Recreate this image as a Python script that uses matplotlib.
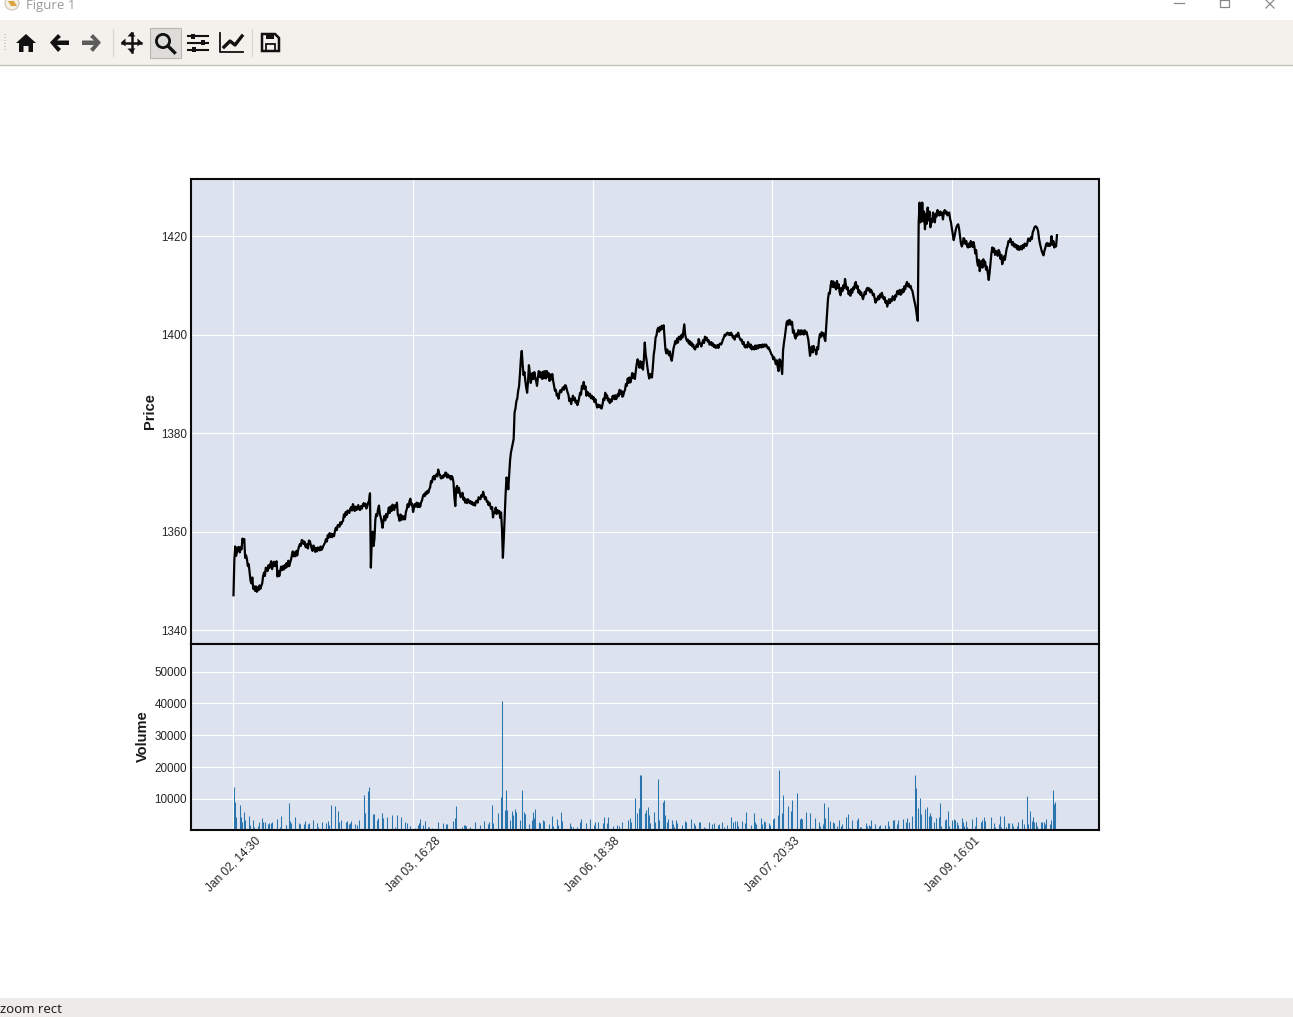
import matplotlib
matplotlib.use('Agg')
import matplotlib.pyplot as plt
from matplotlib.patches import Rectangle, Polygon, Circle

W, H = 1293, 1017

# Значения: номер бара и цена
price_idx = [
    0, 1, 2, 3, 5, 7, 8, 9, 10, 12,
    13, 15, 18, 19, 21, 22, 26, 27, 30, 32,
    34, 37, 41, 43, 45, 47, 49, 52, 55, 58,
    63, 65, 68, 71, 74, 77, 81, 85, 87, 90,
    91, 95, 99, 102, 107, 110, 113, 117, 121, 123,
    128, 130, 133, 135, 138, 141, 145, 148, 150, 152,
    153, 154, 156, 158, 161, 164, 166, 168, 171, 173,
    176, 178, 182, 185, 191, 194, 197, 200, 204, 208,
    212, 218, 220, 223, 226, 228, 231, 237, 240, 243,
    245, 247, 249, 252, 254, 258, 262, 267, 271, 274,
    278, 280, 286, 289, 292, 298, 299, 300, 302, 304,
    306, 309, 312, 313, 317, 321, 325, 327, 329, 332,
    336, 338, 340, 344, 349, 352, 355, 362, 366, 370,
    376, 378, 383, 390, 393, 395, 403, 405, 410, 414,
    419, 423, 427, 430, 434, 439, 442, 444, 447, 450,
    454, 458, 461, 463, 466, 470, 473, 479, 481, 484,
    488, 492, 497, 502, 505, 510, 514, 518, 521, 527,
    531, 538, 544, 549, 555, 558, 562, 570, 573, 580,
    586, 594, 597, 603, 607, 609, 611, 613, 616, 620,
    623, 626, 630, 633, 638, 640, 642, 646, 649, 653,
    657, 659, 662, 666, 669, 672, 676, 681, 687, 693,
    696, 701, 706, 711, 715, 722, 728, 735, 740, 744,
    750, 755, 759, 762, 763, 764, 765, 767, 770, 773,
    776, 779, 781, 784, 790, 792, 796, 802, 807, 811,
    814, 818, 822, 825, 828, 831, 835, 841, 845, 850,
    853, 856, 860, 865, 871, 876, 883, 886, 889, 893,
    895, 899, 902, 906, 909, 911, 914, 916, 917,
]
price_val = [
    1347.1, 1354.4, 1357, 1355.1, 1356.8, 1355.8, 1356.8, 1356.4, 1358.6, 1358.5,
    1354.7, 1354.4, 1351.7, 1350, 1350.7, 1348.4, 1347.8, 1348.7, 1348.4, 1349.5,
    1351.7, 1352.5, 1353.4, 1352.4, 1353.9, 1353.6, 1350.9, 1352, 1353, 1352.6,
    1353.7, 1355.1, 1355.8, 1355.2, 1357.5, 1358.2, 1356.8, 1358.1, 1356.6, 1356.8,
    1355.9, 1356.4, 1356.6, 1357.8, 1359.7, 1358.9, 1360.2, 1361.4, 1362, 1363.5,
    1364, 1364.6, 1365.6, 1364.2, 1364.9, 1364.4, 1365.8, 1364.7, 1365.9, 1367.8,
    1352.7, 1358.5, 1357.1, 1362.5, 1364.6, 1362.9, 1360.8, 1363.2, 1362.9, 1364.9,
    1364.2, 1365.2, 1365.9, 1362.2, 1362.5, 1365.6, 1366.7, 1364, 1365.9, 1365.1,
    1367.6, 1368.6, 1370.3, 1371.3, 1371.6, 1372.6, 1370.8, 1371.9, 1371, 1371.3,
    1370, 1365.2, 1369.3, 1368, 1367.3, 1365.9, 1366.3, 1365.4, 1366.3, 1366.7,
    1368.1, 1366.6, 1365.2, 1362.9, 1364.9, 1363.9, 1360.5, 1354.7, 1363.2, 1371,
    1368.6, 1376.1, 1378.8, 1384.2, 1388.6, 1396.7, 1390.6, 1388.2, 1393.8, 1391,
    1391.3, 1389.6, 1392.6, 1391, 1392.6, 1390.6, 1392, 1387, 1389, 1389.7,
    1385.9, 1387.6, 1385.7, 1390.4, 1387.6, 1388.2, 1386.9, 1385.2, 1385, 1388.2,
    1386.1, 1387.6, 1387.2, 1388.8, 1387.6, 1391.1, 1390.3, 1392.2, 1391, 1395,
    1393.3, 1398.4, 1393.3, 1391.1, 1391.3, 1399.4, 1401.4, 1401.9, 1397, 1396.4,
    1394.7, 1398.7, 1399.4, 1402.1, 1398.7, 1398.4, 1397, 1399.1, 1397.6, 1399.4,
    1398, 1397.4, 1398.4, 1400.2, 1400.1, 1399, 1400.4, 1397.4, 1398.5, 1397,
    1397.4, 1397.7, 1396.9, 1394.7, 1392.6, 1394.7, 1392, 1398.4, 1402.5, 1402.8,
    1400.4, 1399.2, 1400.8, 1400.1, 1400.6, 1399.1, 1395.7, 1397.7, 1396, 1400.1,
    1400.3, 1398.7, 1407.2, 1410.9, 1409.6, 1410.9, 1408, 1411.3, 1407.9, 1410.7,
    1408.5, 1407.2, 1409.5, 1408.7, 1406.5, 1408.5, 1405.7, 1407.5, 1408.9, 1408.4,
    1410.7, 1409.2, 1406.2, 1402.8, 1422.8, 1426.8, 1422.8, 1426.8, 1421.4, 1425.8,
    1421.8, 1424.8, 1422.8, 1425.3, 1423.4, 1425.3, 1424.5, 1419.2, 1422.4, 1417.9,
    1419.4, 1417.7, 1418.6, 1418, 1415, 1412.9, 1415.3, 1411.1, 1417.7, 1416.7,
    1416.8, 1414.3, 1416.3, 1419.5, 1417.7, 1417.4, 1418, 1419.4, 1419.4, 1422,
    1421.6, 1417.7, 1416.1, 1418.6, 1418, 1420, 1417.7, 1417.9, 1420.2,
]

# Мелкие зубцы линии между опорными точками (оценка на глаз)
price_detail = [
    (4, 1356), (6, 1356.9), (11, 1358), (14, 1355.2), (16, 1353), (17, 1353.4), (20, 1349.5), (23, 1348.9),
    (24, 1348), (25, 1348.9), (28, 1348.1), (29, 1349.1), (31, 1349), (33, 1351), (35, 1351), (36, 1352.7),
    (38, 1352), (39, 1353.2), (40, 1352.6), (42, 1354), (44, 1353.2), (46, 1353), (48, 1354), (50, 1352),
    (51, 1351), (53, 1352.9), (54, 1352.2), (56, 1352.3), (57, 1353.2), (59, 1353.6), (60, 1352.9), (61, 1354.1),
    (62, 1353), (64, 1354.3), (66, 1356), (67, 1355), (69, 1355), (70, 1356.1), (72, 1356.3), (73, 1357),
    (75, 1357.1), (76, 1358.3), (78, 1357.5), (79, 1358), (80, 1357), (82, 1357.5), (83, 1356.6), (84, 1358.2),
    (86, 1357.4), (88, 1356.1), (89, 1357.2), (92, 1356.7), (93, 1356), (94, 1356.8), (96, 1356.2), (97, 1357),
    (98, 1356.3), (100, 1357.1), (103, 1358.5), (104, 1358), (105, 1359.3), (106, 1358.8), (108, 1358.9), (109, 1359.6),
    (111, 1359.5), (112, 1359.1), (114, 1360.8), (115, 1360.3), (116, 1361.3), (118, 1361), (119, 1361.9), (120, 1361.5),
    (122, 1362.2), (124, 1363), (125, 1364), (126, 1363.4), (127, 1364.3), (129, 1363.8), (131, 1365), (132, 1364.3),
    (134, 1365), (136, 1365.1), (137, 1364.4), (139, 1365.4), (140, 1364.5), (142, 1365.2), (143, 1364.7), (144, 1365.4),
    (146, 1365.2), (147, 1365.7), (149, 1365.1), (151, 1366.3), (155, 1360), (157, 1358.6), (159, 1363.6), (160, 1363.2),
    (162, 1365.3), (163, 1363.6), (165, 1362), (167, 1362.2), (169, 1362.3), (170, 1363.6), (172, 1363.8), (174, 1363.8),
    (175, 1365.1), (177, 1365.5), (179, 1364.4), (180, 1365.4), (181, 1365), (183, 1363.5), (184, 1363), (186, 1363.5),
    (187, 1362.4), (188, 1363.2), (189, 1362.5), (190, 1363.1), (192, 1364), (193, 1364.6), (195, 1365), (196, 1366.2),
    (198, 1365.4), (199, 1365.7), (201, 1364.9), (202, 1365.6), (203, 1365.1), (205, 1365), (206, 1365.8), (207, 1365),
    (209, 1366), (210, 1366.4), (211, 1367.2), (213, 1367.2), (214, 1368), (215, 1367.6), (216, 1368.3), (217, 1367.9),
    (219, 1369), (221, 1370), (222, 1371), (224, 1370.6), (225, 1371.4), (227, 1371.2), (229, 1371.8), (230, 1371.5),
    (232, 1371.2), (233, 1370.9), (234, 1371.5), (235, 1371.2), (236, 1372), (238, 1371), (239, 1371.6), (241, 1371.3),
    (242, 1370.6), (244, 1371), (246, 1367), (248, 1368.8), (250, 1367.9), (251, 1368.9), (253, 1367), (255, 1367.9),
    (256, 1366.5), (257, 1366.9), (259, 1366.5), (260, 1365.8), (261, 1366.6), (263, 1365.8), (264, 1366.2), (265, 1365.6),
    (266, 1366), (268, 1365.8), (269, 1365.3), (270, 1366.2), (272, 1365.9), (273, 1367), (275, 1366.6), (276, 1367.4),
    (277, 1367.1), (279, 1367.3), (281, 1367), (282, 1366.1), (283, 1366.2), (284, 1365.4), (285, 1365.9), (287, 1364.6),
    (288, 1365), (290, 1364), (291, 1363.8), (293, 1363.6), (294, 1364.4), (295, 1363.9), (296, 1364.2), (297, 1362.8),
    (301, 1358.5), (303, 1367.5), (305, 1370.5), (307, 1371.5), (308, 1374.5), (310, 1377), (311, 1377.8), (314, 1385),
    (315, 1386.5), (316, 1387), (318, 1389.5), (319, 1392), (320, 1395), (322, 1394), (323, 1391.8), (324, 1392.4),
    (326, 1389.2), (328, 1390.5), (330, 1392.2), (331, 1390.2), (333, 1392.2), (334, 1391), (335, 1392.4), (337, 1390.6),
    (339, 1391.4), (341, 1391.4), (342, 1392.4), (343, 1391.2), (345, 1392.5), (346, 1391.2), (347, 1392.6), (348, 1391.1),
    (350, 1391.4), (351, 1392.2), (353, 1391.9), (354, 1390.9), (356, 1390.6), (357, 1389.6), (358, 1388.6), (359, 1388.8),
    (360, 1387.6), (361, 1387.9), (363, 1388.2), (364, 1388.7), (365, 1388.3), (367, 1389.3), (368, 1388.8), (369, 1389.7),
    (371, 1389), (372, 1388.3), (373, 1387.8), (374, 1386.5), (375, 1387), (377, 1386.8), (379, 1386.7), (380, 1387.2),
    (381, 1386.2), (382, 1386.6), (384, 1386.3), (385, 1387.2), (386, 1388.2), (387, 1387.8), (388, 1389.6), (389, 1389),
    (391, 1389), (392, 1389.5), (394, 1388.4), (396, 1387.5), (397, 1388), (398, 1387.1), (399, 1387.6), (400, 1386.9),
    (401, 1387.3), (402, 1386.3), (404, 1385.9), (406, 1385.8), (407, 1385.3), (408, 1385.7), (409, 1385.1), (411, 1385.9),
    (412, 1387), (413, 1386.7), (415, 1387.2), (416, 1387.7), (417, 1386.6), (418, 1387), (420, 1386.8), (421, 1386.4),
    (422, 1387.5), (424, 1386.9), (425, 1387.7), (426, 1386.9), (428, 1388), (429, 1387.5), (431, 1388), (432, 1388.6),
    (433, 1387.4), (435, 1388.4), (436, 1388.8), (437, 1390), (438, 1389.6), (440, 1390.2), (441, 1391.3), (443, 1391),
    (445, 1391.2), (446, 1392), (448, 1392.6), (449, 1394), (451, 1394.4), (452, 1393.3), (453, 1394.6), (455, 1394.4),
    (456, 1392.9), (457, 1395), (459, 1396), (460, 1394.8), (462, 1392), (464, 1392), (465, 1391.6), (467, 1393.5),
    (468, 1396), (469, 1397.2), (471, 1399.8), (472, 1401), (474, 1400.6), (475, 1401.6), (476, 1401), (477, 1401.8),
    (478, 1401.2), (480, 1399.5), (482, 1396.2), (483, 1397), (485, 1395.8), (486, 1396.6), (487, 1395.3), (489, 1395.8),
    (490, 1397.2), (491, 1397.9), (493, 1398.2), (494, 1399.2), (495, 1398.4), (496, 1399.6), (498, 1399), (499, 1400),
    (500, 1399.4), (501, 1400.7), (503, 1400), (504, 1399.2), (506, 1399), (507, 1398.2), (508, 1398.7), (509, 1397.9),
    (511, 1397.6), (512, 1398), (513, 1397.2), (515, 1397.5), (516, 1398), (517, 1397.5), (519, 1398.5), (520, 1398),
    (522, 1398.3), (523, 1398.9), (524, 1398.3), (525, 1399.6), (526, 1399), (528, 1398.6), (529, 1398.9), (530, 1398),
    (532, 1398.5), (533, 1397.8), (534, 1398.2), (535, 1397.5), (536, 1397.9), (537, 1397.3), (539, 1397.9), (540, 1397.3),
    (541, 1398), (542, 1398.2), (543, 1398), (545, 1399), (546, 1399.4), (547, 1400), (548, 1399.8), (550, 1400.4),
    (551, 1400), (552, 1400.3), (553, 1399.9), (554, 1400.4), (556, 1399.4), (557, 1399.7), (559, 1399.6), (560, 1400),
    (561, 1399.6), (563, 1399.6), (564, 1399.2), (565, 1398.8), (566, 1399), (567, 1398.1), (568, 1398.5), (569, 1397.6),
    (571, 1397.9), (572, 1397.4), (574, 1398), (575, 1397.4), (576, 1398), (577, 1397), (578, 1397.6), (579, 1397.1),
    (581, 1397.8), (582, 1397.1), (583, 1397.8), (584, 1397.2), (585, 1397.9), (587, 1397.9), (588, 1397.4), (589, 1398),
    (590, 1397.5), (591, 1398), (592, 1397.6), (593, 1398), (595, 1397.2), (596, 1397.4), (598, 1396.5), (599, 1396),
    (600, 1395.8), (601, 1395), (602, 1395.4), (604, 1394), (605, 1394.8), (606, 1393.5), (608, 1395), (610, 1393.4),
    (612, 1396.8), (614, 1399.6), (615, 1401), (617, 1402.8), (618, 1402), (619, 1403), (621, 1402), (622, 1402.6),
    (624, 1400.9), (625, 1399.6), (627, 1400.2), (628, 1399.8), (629, 1400.9), (631, 1400), (632, 1400.9), (634, 1400.8),
    (635, 1400), (636, 1400.9), (637, 1400.2), (639, 1399.8), (641, 1397.5), (643, 1396.6), (644, 1397.6), (645, 1396.4),
    (647, 1397), (648, 1396.8), (650, 1397.5), (651, 1397), (652, 1399), (654, 1399.5), (655, 1400.5), (656, 1399.8),
    (658, 1399.3), (660, 1401.5), (661, 1404.5), (663, 1408.5), (664, 1408.3), (665, 1410), (667, 1409.7), (668, 1410.8),
    (670, 1410.4), (671, 1409.2), (673, 1409.5), (674, 1410.2), (675, 1408.6), (677, 1409.5), (678, 1408.8), (679, 1410),
    (680, 1409.4), (682, 1410), (683, 1409.2), (684, 1409.6), (685, 1408.2), (686, 1408.9), (688, 1409.2), (689, 1408.5),
    (690, 1409.6), (691, 1409.2), (692, 1410.3), (694, 1409.4), (695, 1409.9), (697, 1409), (698, 1408.1), (699, 1408.6),
    (700, 1407.8), (702, 1408), (703, 1408.7), (704, 1408.2), (705, 1409.3), (707, 1409), (708, 1409.4), (709, 1408.6),
    (710, 1409.1), (712, 1408), (713, 1408.3), (714, 1407.3), (716, 1407.3), (717, 1407), (718, 1407.8), (719, 1407.2),
    (720, 1408.2), (721, 1407.6), (723, 1407.8), (724, 1407.2), (725, 1407.6), (726, 1406.5), (727, 1406.9), (729, 1406.5),
    (730, 1407.2), (731, 1406.4), (732, 1407.2), (733, 1406.8), (734, 1407.8), (736, 1407), (737, 1408), (738, 1407.7),
    (739, 1408.8), (741, 1408.2), (742, 1409.1), (743, 1408.1), (745, 1409.2), (746, 1408.6), (747, 1409.8), (748, 1409.2),
    (749, 1410.2), (751, 1409.8), (752, 1410.3), (753, 1409.6), (754, 1409.9), (756, 1408.9), (757, 1407.9), (758, 1407),
    (760, 1405.2), (761, 1403.8), (766, 1423.4), (768, 1423), (769, 1425), (771, 1424.5), (772, 1422.5), (774, 1423.2),
    (775, 1425), (777, 1423.4), (778, 1422.8), (780, 1423.5), (782, 1424.6), (783, 1424), (785, 1424.6), (786, 1424.2),
    (787, 1425), (788, 1424.3), (789, 1424.8), (791, 1424.7), (793, 1424.6), (794, 1425), (795, 1424.2), (797, 1424.8),
    (798, 1423.5), (799, 1422.8), (800, 1421.5), (801, 1420.4), (803, 1420), (804, 1421), (805, 1421.8), (806, 1422.2),
    (808, 1421.5), (809, 1420), (810, 1418.6), (812, 1418.4), (813, 1419.6), (815, 1418.4), (816, 1419), (817, 1417.9),
    (819, 1418.5), (820, 1417.8), (821, 1419), (823, 1417.8), (824, 1418.8), (826, 1416.5), (827, 1417.2), (829, 1414),
    (830, 1415.2), (832, 1414.3), (833, 1415), (834, 1413.6), (836, 1414), (837, 1414.8), (838, 1413.2), (839, 1413.8),
    (840, 1412.4), (842, 1412.6), (843, 1414.6), (844, 1416.5), (846, 1416.8), (847, 1417.5), (848, 1416.2), (849, 1417),
    (851, 1416), (852, 1417.2), (854, 1415.4), (855, 1416.2), (857, 1415), (858, 1415.9), (859, 1415.2), (861, 1417.5),
    (862, 1418), (863, 1419), (864, 1418.8), (866, 1419), (867, 1418.2), (868, 1418.8), (869, 1417.9), (870, 1418.4),
    (872, 1418.2), (873, 1417.3), (874, 1418), (875, 1417.2), (877, 1418), (878, 1417.3), (879, 1418.2), (880, 1417.6),
    (881, 1418.5), (882, 1418.2), (884, 1418.6), (885, 1419.5), (887, 1419), (888, 1419.8), (890, 1420.8), (891, 1421.2),
    (892, 1421.8), (894, 1421.9), (896, 1421), (897, 1419.5), (898, 1418.5), (900, 1417), (901, 1416.5), (903, 1417),
    (904, 1417.6), (905, 1418.4), (907, 1418), (908, 1418.5), (910, 1418.4), (912, 1418.2), (913, 1419), (915, 1418.4),
]

# Объём: номер бара и значение
volume_idx = [
    1, 2, 3, 7, 8, 10, 12, 13, 17, 18, 22, 23, 27, 28, 32, 33, 35, 38, 40, 42,
    43, 48, 49, 52, 53, 58, 59, 62, 63, 64, 68, 69, 73, 74, 78, 79, 80, 83, 84, 88,
    89, 93, 94, 99, 103, 105, 106, 109, 113, 116, 117, 118, 120, 125, 126, 129, 130, 131, 135, 138,
    140, 145, 146, 150, 151, 155, 156, 157, 160, 161, 165, 166, 167, 171, 176, 177, 180, 182, 186, 187,
    191, 193, 197, 202, 206, 207, 208, 211, 213, 217, 218, 221, 228, 233, 237, 238, 244, 247, 248, 254,
    257, 258, 259, 263, 269, 274, 279, 283, 284, 285, 288, 289, 295, 298, 299, 302, 304, 305, 308, 310,
    311, 314, 315, 319, 321, 324, 325, 329, 332, 334, 335, 336, 340, 341, 345, 346, 351, 355, 356, 360,
    361, 365, 366, 375, 376, 378, 382, 386, 387, 392, 397, 401, 403, 406, 411, 412, 413, 416, 417, 423,
    427, 429, 433, 439, 442, 443, 447, 449, 452, 453, 454, 458, 459, 462, 463, 464, 468, 469, 473, 474,
    478, 479, 480, 483, 484, 488, 489, 490, 493, 494, 499, 500, 503, 504, 509, 510, 513, 514, 518, 520,
    524, 525, 529, 530, 533, 535, 539, 541, 544, 546, 550, 554, 556, 558, 559, 561, 562, 566, 570, 571,
    576, 580, 581, 582, 587, 588, 591, 592, 596, 597, 601, 602, 606, 607, 608, 611, 612, 617, 618, 621,
    622, 627, 628, 631, 632, 633, 637, 638, 642, 644, 647, 648, 652, 653, 657, 658, 659, 662, 664, 668,
    669, 672, 674, 677, 678, 682, 684, 685, 689, 694, 695, 698, 699, 704, 705, 708, 709, 710, 714, 719,
    720, 725, 729, 730, 734, 735, 736, 739, 740, 745, 746, 749, 750, 752, 756, 759, 760, 762, 765, 766,
    770, 772, 775, 776, 777, 780, 782, 786, 787, 788, 792, 793, 796, 797, 800, 802, 803, 806, 807, 811,
    812, 813, 816, 817, 822, 826, 827, 832, 833, 836, 837, 843, 847, 848, 852, 854, 855, 858, 860, 863,
    864, 867, 868, 873, 874, 878, 880, 884, 885, 887, 889, 890, 891, 894, 895, 899, 900, 903, 904, 905,
    909, 910, 913, 914, 915,
]
volume_val = [
    13800, 8900, 4400, 8100, 4400, 2900, 5900, 3400, 4600, 1800, 3400, 1300, 1500, 2700, 4000, 2900, 2700, 2100, 2300, 2300,
    2900, 3700, 3400, 1300, 4600, 1700, 1800, 8700, 3100, 2500, 1600, 4300, 2400, 2100, 1300, 2000, 3100, 2100, 2400, 1300,
    3400, 2400, 1300, 2700, 2400, 3100, 1700, 8100, 7800, 6200, 2900, 1600, 3400, 2900, 3100, 2000, 2400, 3100, 2100, 1700,
    3400, 11300, 5600, 12500, 13800, 5300, 5300, 2700, 3300, 4000, 5600, 4000, 2400, 4300, 1300, 5000, 1300, 5000, 4300, 4000,
    2700, 2400, 1500, 900, 1800, 2400, 3700, 1800, 3100, 1200, 1200, 900, 2700, 2400, 2100, 2100, 3100, 4000, 7800, 1200,
    1800, 1800, 1500, 1200, 2700, 1800, 3100, 2100, 2400, 2700, 8100, 2400, 5600, 10600, 40700, 6500, 12800, 6500, 3400, 6200,
    5000, 6900, 5900, 3400, 12800, 5900, 5300, 2100, 3400, 5900, 4000, 6900, 2700, 2400, 3400, 3100, 2100, 4600, 1500, 3700,
    1800, 5900, 3100, 2400, 1500, 1200, 1200, 2700, 3700, 2400, 3700, 1800, 2700, 2700, 2400, 2100, 4300, 2400, 4300, 1500,
    1800, 1500, 2700, 3400, 4000, 2700, 10300, 5600, 7200, 17600, 17600, 5600, 6500, 7500, 5000, 2400, 5900, 2700, 16300, 3400,
    9000, 9700, 5000, 2700, 3700, 3400, 2100, 1200, 3400, 2400, 1700, 1500, 3100, 2700, 3700, 2100, 2400, 1800, 2700, 2700,
    1200, 900, 2700, 2100, 2100, 2400, 1800, 2100, 2700, 1200, 1800, 4300, 2700, 3100, 1500, 3100, 1500, 3100, 2400, 5900,
    1800, 5600, 2700, 2100, 4000, 2100, 3100, 2700, 2400, 1800, 3700, 4000, 5000, 8100, 19100, 5600, 11300, 7800, 1500, 6200,
    9700, 1200, 11900, 3700, 4000, 3700, 4600, 5900, 5600, 900, 4000, 2700, 2700, 1500, 2100, 8700, 4000, 7500, 3100, 2700,
    2400, 1500, 3400, 1500, 2100, 4300, 5300, 900, 3400, 3400, 4000, 1200, 1200, 2400, 1500, 1800, 1500, 3400, 2100, 1500,
    1800, 1800, 3100, 1500, 3400, 3400, 3300, 2100, 3400, 3700, 2400, 2700, 4000, 2700, 4600, 17600, 13500, 7200, 10300, 5300,
    6900, 7500, 4600, 5600, 4600, 2700, 4000, 4300, 8700, 1500, 3400, 3700, 6200, 1500, 3400, 3700, 3400, 2700, 1800, 4000,
    2700, 1500, 3100, 1200, 3700, 1500, 4300, 2700, 3400, 4300, 3100, 4300, 2400, 1200, 2100, 4600, 1200, 4600, 1200, 2400,
    2400, 2400, 1500, 1500, 2700, 3700, 2100, 11000, 2100, 6200, 3100, 4300, 2700, 2700, 1500, 2700, 2700, 2700, 2100, 3700,
    2100, 3400, 12800, 8400, 9100,
]

price_ticks = [1340, 1360, 1380, 1400, 1420]
volume_ticks = [10000, 20000, 30000, 40000, 50000]
date_ticks = [0, 200, 400, 600, 800]
date_labels = ['Jan 02, 14:30', 'Jan 03, 16:28', 'Jan 06, 18:38', 'Jan 07, 20:33', 'Jan 09, 16:01']

ICON = '#111111'
LABEL_FONT = ['Liberation Sans', 'DejaVu Sans']


def axes_px(fig, left, top, right, bottom):
    # Оси в пикселях экрана (y сверху вниз)
    return fig.add_axes([left / W, 1 - bottom / H, (right - left) / W, (bottom - top) / H])


def draw_window(fig):
    # Рамка окна: заголовок, панель инструментов и строка состояния
    ax = fig.add_axes([0, 0, 1, 1], zorder=-1)
    ax.set_xlim(0, W)
    ax.set_ylim(H, 0)
    ax.axis('off')

    ax.add_patch(Rectangle((0, 20), W, 45, color='#f4f1ec', lw=0))
    ax.plot([0, W], [65, 65], color='#c4c2bd', lw=1)
    ax.add_patch(Rectangle((0, 998), W, 19, color='#eeecE9', lw=0))

    ax.text(26, 5, 'Figure 1', color='#9a9a9a', fontsize=9.5, family='Open Sans', va='center')
    ax.text(0, 1009.5, 'zoom rect', color='#222222', fontsize=9.5, family='Noto Sans', va='center')
    ax.add_patch(Circle((12, 3), 7, facecolor='#f4f0e4', edgecolor='#c9c5bb', lw=0.8))
    ax.add_patch(Polygon([(8, 1), (14, 1), (17, 6), (11, 6)], color='#d9a441', lw=0))

    # Кнопки окна
    ax.plot([1174, 1184], [3, 3], color='#888888', lw=0.9)
    ax.plot([1219.5, 1228.5, 1228.5, 1219.5, 1219.5], [0, 0, 7, 7, 0], color='#888888', lw=0.9)
    ax.plot([1266, 1274], [0, 8], color='#888888', lw=0.9)
    ax.plot([1266, 1274], [8, 0], color='#888888', lw=0.9)

    # Разделители панели
    for x in [113, 252]:
        ax.plot([x, x], [29, 56], color='#d8d6d1', lw=0.8)
    for y in range(34, 52, 3):
        ax.plot([3.5, 4.5], [y, y], color='#c4c2bd', lw=0.6)

    # Домой
    ax.add_patch(Polygon([(16, 43), (26, 34), (36, 43), (33, 43), (33, 52), (28.5, 52), (28.5, 46),
                          (23.5, 46), (23.5, 52), (19, 52), (19, 43)], color=ICON, lw=0))
    # Назад и вперёд
    ax.add_patch(Polygon([(50, 42.5), (58, 34), (61, 37), (57, 40.5), (69, 40.5), (69, 45), (57, 45),
                          (61, 49), (58, 52)], color=ICON, lw=0))
    ax.add_patch(Polygon([(101, 42.5), (93, 34), (90, 37), (94, 40.5), (82, 40.5), (82, 45), (94, 45),
                          (90, 49), (93, 52)], color='#5c5c5c', lw=0))
    # Перемещение
    ax.plot([122, 141], [42.5, 42.5], color=ICON, lw=1.8)
    ax.plot([131.5, 131.5], [33, 52], color=ICON, lw=1.8)
    for tip, base in [((121, 42.5), [(125.5, 38.5), (125.5, 46.5)]), ((142, 42.5), [(137.5, 38.5), (137.5, 46.5)]),
                      ((131.5, 32), [(127.5, 36.5), (135.5, 36.5)]), ((131.5, 53), [(127.5, 48.5), (135.5, 48.5)])]:
        ax.add_patch(Polygon([tip] + base, color=ICON, lw=0))
    # Лупа на нажатой кнопке
    ax.add_patch(Rectangle((149.5, 27.5), 31, 30, facecolor='#dedcd8', edgecolor='#b9b7b3', lw=0.8))
    ax.add_patch(Circle((163, 41), 6.6, facecolor='none', edgecolor=ICON, lw=2))
    ax.plot([168, 174.5], [46, 52.5], color=ICON, lw=2.4)
    # Настройки
    for y, x in [(36, 193), (42.5, 203), (49.5, 194)]:
        ax.plot([188, 208], [y, y], color=ICON, lw=1.5)
        ax.add_patch(Rectangle((x - 2, y - 2.5), 4, 5, color=ICON, lw=0))
    # Линия графика
    ax.plot([220, 220, 243], [33, 52, 52], color=ICON, lw=1.3)
    ax.plot([224, 230, 235, 242], [47, 41, 45, 36], color=ICON, lw=2.4)
    # Дискета
    ax.add_patch(Polygon([(262, 34), (275, 34), (279, 38), (279, 51), (262, 51)],
                         facecolor='none', edgecolor=ICON, lw=1.8))
    ax.add_patch(Rectangle((266, 34), 8, 5, facecolor=ICON, lw=0))
    ax.add_patch(Rectangle((266, 44), 9, 7, facecolor='none', edgecolor=ICON, lw=1.3))


def style_axes(ax, yticks):
    ax.set_facecolor('#dce3ef')
    ax.set_xlim(-47.3, 963.8)
    ax.set_xticks(date_ticks)
    ax.set_yticks(yticks)
    ax.grid(True, color='white', linewidth=0.8)
    ax.set_axisbelow(True)
    ax.tick_params(length=0, labelsize=8.4, labelcolor='#262626')
    for label in ax.get_yticklabels():
        label.set_family(LABEL_FONT)
    for spine in ax.spines.values():
        spine.set_linewidth(1.5)
        spine.set_color('#0a0a0a')


# Опорные точки и зубцы собираем в одну линию по номеру бара
price_points = dict(zip(price_idx, price_val))
price_points.update(price_detail)
line_x = sorted(price_points)
line_y = [price_points[i] for i in line_x]

fig = plt.figure(figsize=(W / 100, H / 100), dpi=100, facecolor='white')
draw_window(fig)

ax_price = axes_px(fig, 191, 179, 1099, 643.5)
ax_volume = axes_px(fig, 191, 643.5, 1099, 829.5)

ax_price.plot(line_x, line_y, color='black', linewidth=1.6, solid_joinstyle='round')
ax_price.set_ylim(1337.3, 1431.6)
style_axes(ax_price, price_ticks)
ax_price.tick_params(labelbottom=False, pad=3)
ax_price.set_ylabel('Price', fontsize=10.5, fontweight='bold', family=LABEL_FONT, color='#1a1a1a')
ax_price.yaxis.set_label_coords(-34 / 908, 0.5)

ax_volume.vlines(volume_idx, 0, volume_val, color='#2a75ad', linewidth=0.75)
ax_volume.set_ylim(394, 58800)
style_axes(ax_volume, volume_ticks)
ax_volume.tick_params(axis='y', pad=3)
ax_volume.set_xticklabels(date_labels, rotation=45, ha='center', family=LABEL_FONT)
ax_volume.tick_params(axis='x', pad=4, labelsize=8.6)
ax_volume.set_ylabel('Volume', fontsize=10.5, fontweight='bold', family=LABEL_FONT, color='#1a1a1a')
ax_volume.yaxis.set_label_coords(-41 / 908, 0.5)

fig.savefig('out.png', dpi=100)
